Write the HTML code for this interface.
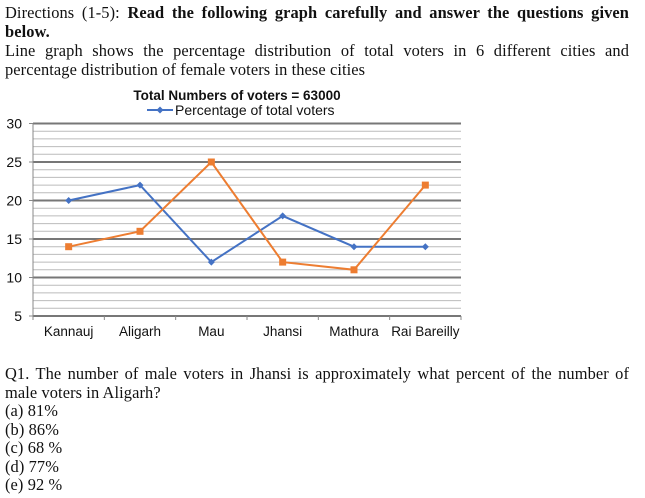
<!DOCTYPE html>
<html><head><meta charset="utf-8"><style>
body{margin:0;background:#fff;width:645px;height:498px;overflow:hidden;position:relative}
.t{position:absolute;left:5px;width:624px;font-family:"Liberation Serif",serif;font-size:16.4px;line-height:19px;color:#111;text-align:justify;text-align-last:left;margin:0;letter-spacing:0.1px}
svg{position:absolute;left:0;top:80px}
</style></head><body>
<p class="t" style="top:3px">Directions (1-5): <b>Read the following graph carefully and answer the questions given below.</b></p>
<p class="t" style="top:41px">Line graph shows the percentage distribution of total voters in 6 different cities and percentage distribution of female voters in these cities</p>
<svg id="chart" width="470" height="262"></svg>
<p class="t" style="top:364px">Q1. The number of male voters in Jhansi is approximately what percent of the number of male voters in Aligarh?</p>
<p class="t" style="top:402px;line-height:18.6px">(a) 81%<br>(b) 86%<br>(c) 68 %<br>(d) 77%<br>(e) 92 %</p>
<script>
const categories=["Kannauj","Aligarh","Mau","Jhansi","Mathura","Rai Bareilly"];
const totalVoters=[20,22,12,18,14,14];
const femaleVoters=[14,16,25,12,11,22];
const yTicks=[5,10,15,20,25,30];
const NS="http://www.w3.org/2000/svg";
const svg=document.getElementById('chart');
const L=33,R=461,T=43.5,B=236;
const yMin=5,yMax=30;
const y=v=>B-(v-yMin)/(yMax-yMin)*(B-T);
const step=(R-L)/categories.length;
const x=i=>L+step*(i+0.5);
function mk(tag,attrs){const e=document.createElementNS(NS,tag);for(const k in attrs)e.setAttribute(k,attrs[k]);svg.appendChild(e);return e;}
for(let v=yMin;v<=yMax;v++){
 const major=v%5===0;
 const g=mk('line',{x1:L,x2:R,y1:y(v),y2:y(v),stroke:major?'#777':'#bbb','stroke-width':major?2:1});
 
 
}
const ax=mk('line',{x1:L,x2:L,y1:T,y2:B+3,stroke:'#888','stroke-width':1});

yTicks.forEach(v=>{
 const tk=mk('line',{x1:L-4,x2:L,y1:y(v),y2:y(v),stroke:'#888'});
 
 const t=mk('text',{x:L-11,y:y(v)+5,'text-anchor':'end','font-family':'Liberation Sans,sans-serif','font-size':14,fill:'#111'});
 t.textContent=v;
 
});
for(let i=0;i<=categories.length;i++){
 const tk=mk('line',{x1:L+step*i,x2:L+step*i,y1:B,y2:B+4,stroke:'#888'});
 
}
categories.forEach((c,i)=>{
 const t=mk('text',{x:x(i),y:B+20,'text-anchor':'middle','font-family':'Liberation Sans,sans-serif','font-size':13.5,fill:'#111'});
 t.textContent=c;
 
});
function series(vals,color,name,square){
 const p=mk('polyline',{points:vals.map((v,i)=>x(i)+','+y(v)).join(' '),fill:'none',stroke:color,'stroke-width':2});
 
 vals.forEach((v,i)=>{
  let m;
  if(square)m=mk('rect',{x:x(i)-3.5,y:y(v)-3.5,width:7,height:7,fill:color});
  else m=mk('polygon',{points:`${x(i)},${y(v)-3.5} ${x(i)+3.5},${y(v)} ${x(i)},${y(v)+3.5} ${x(i)-3.5},${y(v)}`,fill:color});
  
 });
}
series(totalVoters,'#4472c4','total-voters',false);
series(femaleVoters,'#ed7d31','female-voters',true);
const title=mk('text',{x:237,y:20,'text-anchor':'middle','font-family':'Liberation Sans,sans-serif','font-size':13.5,'font-weight':'bold',fill:'#111'});
title.textContent='Total Numbers of voters = 63000';

const ll=mk('line',{x1:147,x2:173,y1:30,y2:30,stroke:'#4472c4','stroke-width':2});

const lm=mk('polygon',{points:'160,26.5 163.5,30 160,33.5 156.5,30',fill:'#4472c4'});

const lt=mk('text',{x:175,y:35,'font-family':'Liberation Sans,sans-serif','font-size':14,fill:'#111'});
lt.textContent='Percentage of total voters';

</script>
</body></html>
